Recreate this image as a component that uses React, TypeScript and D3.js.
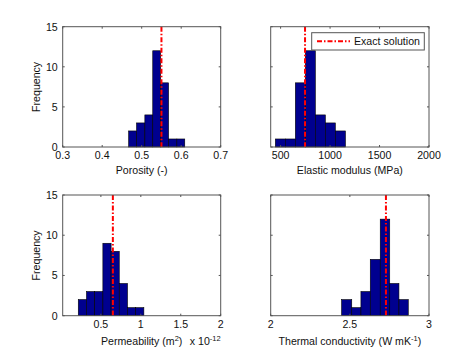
import React from "react";
import * as d3 from "d3";

// ---- Data ----
const yTicks = [0, 5, 10, 15];

const porosityEdges = [0.467, 0.487, 0.508, 0.528, 0.548, 0.568, 0.589, 0.609];
const porosityCounts = [2, 3, 4, 12, 8, 1, 1];
const porosityExact = 0.55;
const porosityDomain = [0.3, 0.7];
const porosityTicks = [0.3, 0.4, 0.5, 0.6, 0.7];

const elasticEdges = [447, 548, 649, 750, 851, 952, 1053, 1155];
const elasticCounts = [1, 1, 8, 12, 4, 3, 2];
const elasticExact = 747;
const elasticDomain = [400, 2000];
const elasticTicks = [500, 1000, 1500, 2000];

const permEdges = [0.217, 0.32, 0.422, 0.525, 0.628, 0.73, 0.833, 0.936, 1.038];
const permCounts = [2, 3, 3, 9, 8, 4, 1, 1];
const permExact = 0.65;
const permDomain = [0.022, 2];
const permTicks = [0.5, 1, 1.5, 2];

const thermEdges = [2.448, 2.512, 2.57, 2.629, 2.692, 2.752, 2.81, 2.869];
const thermCounts = [2, 1, 3, 7, 12, 4, 2];
const thermExact = 2.728;
const thermDomain = [2, 3];
const thermTicks = [2, 2.5, 3];

const FONT = "'Liberation Sans', Arial, Helvetica, sans-serif";
const FS = 10.6;
const AXIS = "#555";
const BAR = "#00008F";
const RED = "#FF0000";
const DASH = "5,2,1.5,2";

type Panel = {
  edges: number[];
  counts: number[];
  exact: number;
  domain: number[];
  ticks: number[];
  x0: number;
  x1: number;
  y0: number;
  y1: number;
  showY: boolean;
  label: React.ReactNode;
  exponent?: boolean;
  legend?: boolean;
};

const LX0 = 62.7, LX1 = 220.7, RX0 = 270.7, RX1 = 429;
const TY0 = 26.7, TY1 = 147, BY0 = 195, BY1 = 315.7;

const panels: Panel[] = [
  {
    edges: porosityEdges, counts: porosityCounts, exact: porosityExact,
    domain: porosityDomain, ticks: porosityTicks,
    x0: LX0, x1: LX1, y0: TY0, y1: TY1, showY: true,
    label: "Porosity (-)",
  },
  {
    edges: elasticEdges, counts: elasticCounts, exact: elasticExact,
    domain: elasticDomain, ticks: elasticTicks,
    x0: RX0, x1: RX1, y0: TY0, y1: TY1, showY: false,
    label: "Elastic modulus (MPa)", legend: true,
  },
  {
    edges: permEdges, counts: permCounts, exact: permExact,
    domain: permDomain, ticks: permTicks,
    x0: LX0, x1: LX1, y0: BY0, y1: BY1, showY: true,
    label: (
      <>
        Permeability (m<tspan dy={-4} fontSize={7.5}>2</tspan>
        <tspan dy={4}>)</tspan>
      </>
    ),
    exponent: true,
  },
  {
    edges: thermEdges, counts: thermCounts, exact: thermExact,
    domain: thermDomain, ticks: thermTicks,
    x0: RX0, x1: RX1, y0: BY0, y1: BY1, showY: false,
    label: (
      <>
        Thermal conductivity (W mK<tspan dy={-4} fontSize={7.5}>-1</tspan>
        <tspan dy={4}>)</tspan>
      </>
    ),
  },
];

function HistPanel({ p }: { p: Panel }) {
  const x = d3.scaleLinear().domain(p.domain).range([p.x0, p.x1]);
  const y = d3.scaleLinear().domain([0, 15]).range([p.y1, p.y0]);
  const tl = 2;
  const fmt = (v: number) => String(v);
  const bins = p.counts.map((c, i) => ({ a: p.edges[i], b: p.edges[i + 1], c }));
  return (
    <g>
      {bins.map((b, i) =>
        b.c > 0 ? (
          <rect
            key={i}
            x={x(b.a)}
            y={y(b.c)}
            width={x(b.b) - x(b.a)}
            height={y(0) - y(b.c)}
            fill={BAR}
            stroke="#000"
            strokeWidth={0.6}
          />
        ) : null
      )}
      <line
        x1={x(p.exact)}
        x2={x(p.exact)}
        y1={y(15)}
        y2={y(0)}
        stroke={RED}
        strokeWidth={2}
        strokeDasharray={DASH}
      />
      {/* frame */}
      <rect x={p.x0} y={p.y0} width={p.x1 - p.x0} height={p.y1 - p.y0} fill="none" stroke={AXIS} strokeWidth={1} />
      {/* x ticks */}
      {p.ticks.map((t) => (
        <g key={"xt" + t}>
          <line x1={x(t)} x2={x(t)} y1={p.y1} y2={p.y1 - tl} stroke={AXIS} />
          <line x1={x(t)} x2={x(t)} y1={p.y0} y2={p.y0 + tl} stroke={AXIS} />
          <text x={x(t)} y={p.y1 + 12.3} textAnchor="middle" fontFamily={FONT} fontSize={FS} fill="#111">
            {fmt(t)}
          </text>
        </g>
      ))}
      {/* y ticks */}
      {yTicks.map((t) => (
        <g key={"yt" + t}>
          <line x1={p.x0} x2={p.x0 + tl} y1={y(t)} y2={y(t)} stroke={AXIS} />
          <line x1={p.x1} x2={p.x1 - tl} y1={y(t)} y2={y(t)} stroke={AXIS} />
          {p.showY ? (
            <text x={p.x0 - 5} y={y(t) + 3.8} textAnchor="end" fontFamily={FONT} fontSize={FS} fill="#111">
              {t}
            </text>
          ) : null}
        </g>
      ))}
      {p.showY ? (
        <text
          transform={`translate(40,${(p.y0 + p.y1) / 2}) rotate(-90)`}
          textAnchor="middle"
          fontFamily={FONT}
          fontSize={FS}
          fill="#111"
        >
          Frequency
        </text>
      ) : null}
      <text
        x={(p.x0 + p.x1) / 2}
        y={p.y1 + (p.exponent || !p.showY && p.y0 > 100 ? 29.5 : 27)}
        textAnchor="middle"
        fontFamily={FONT}
        fontSize={FS}
        fill="#111"
      >
        {p.label}
      </text>
      {p.exponent ? (
        <text x={p.x1} y={p.y1 + 29.5} textAnchor="end" fontFamily={FONT} fontSize={FS} fill="#111">
          x 10<tspan dy={-4} fontSize={7.5}>-12</tspan>
        </text>
      ) : null}
      {p.legend ? (
        <g>
          <rect x={311.7} y={32.7} width={112.6} height={17.3} fill="#fff" stroke={AXIS} strokeWidth={1} />
          <line x1={317} x2={350} y1={41.3} y2={41.3} stroke={RED} strokeWidth={2} strokeDasharray={DASH} />
          <text x={354} y={45} fontFamily={FONT} fontSize={FS} fill="#111">
            Exact solution
          </text>
        </g>
      ) : null}
    </g>
  );
}

export default function App() {
  return (
    <svg
      width={474}
      height={355}
      style={{ position: "absolute", left: 0, top: 0, background: "#fff" }}
    >
      <rect x={0} y={0} width={474} height={355} fill="#fff" />
      {panels.map((p, i) => (
        <HistPanel key={i} p={p} />
      ))}
    </svg>
  );
}
